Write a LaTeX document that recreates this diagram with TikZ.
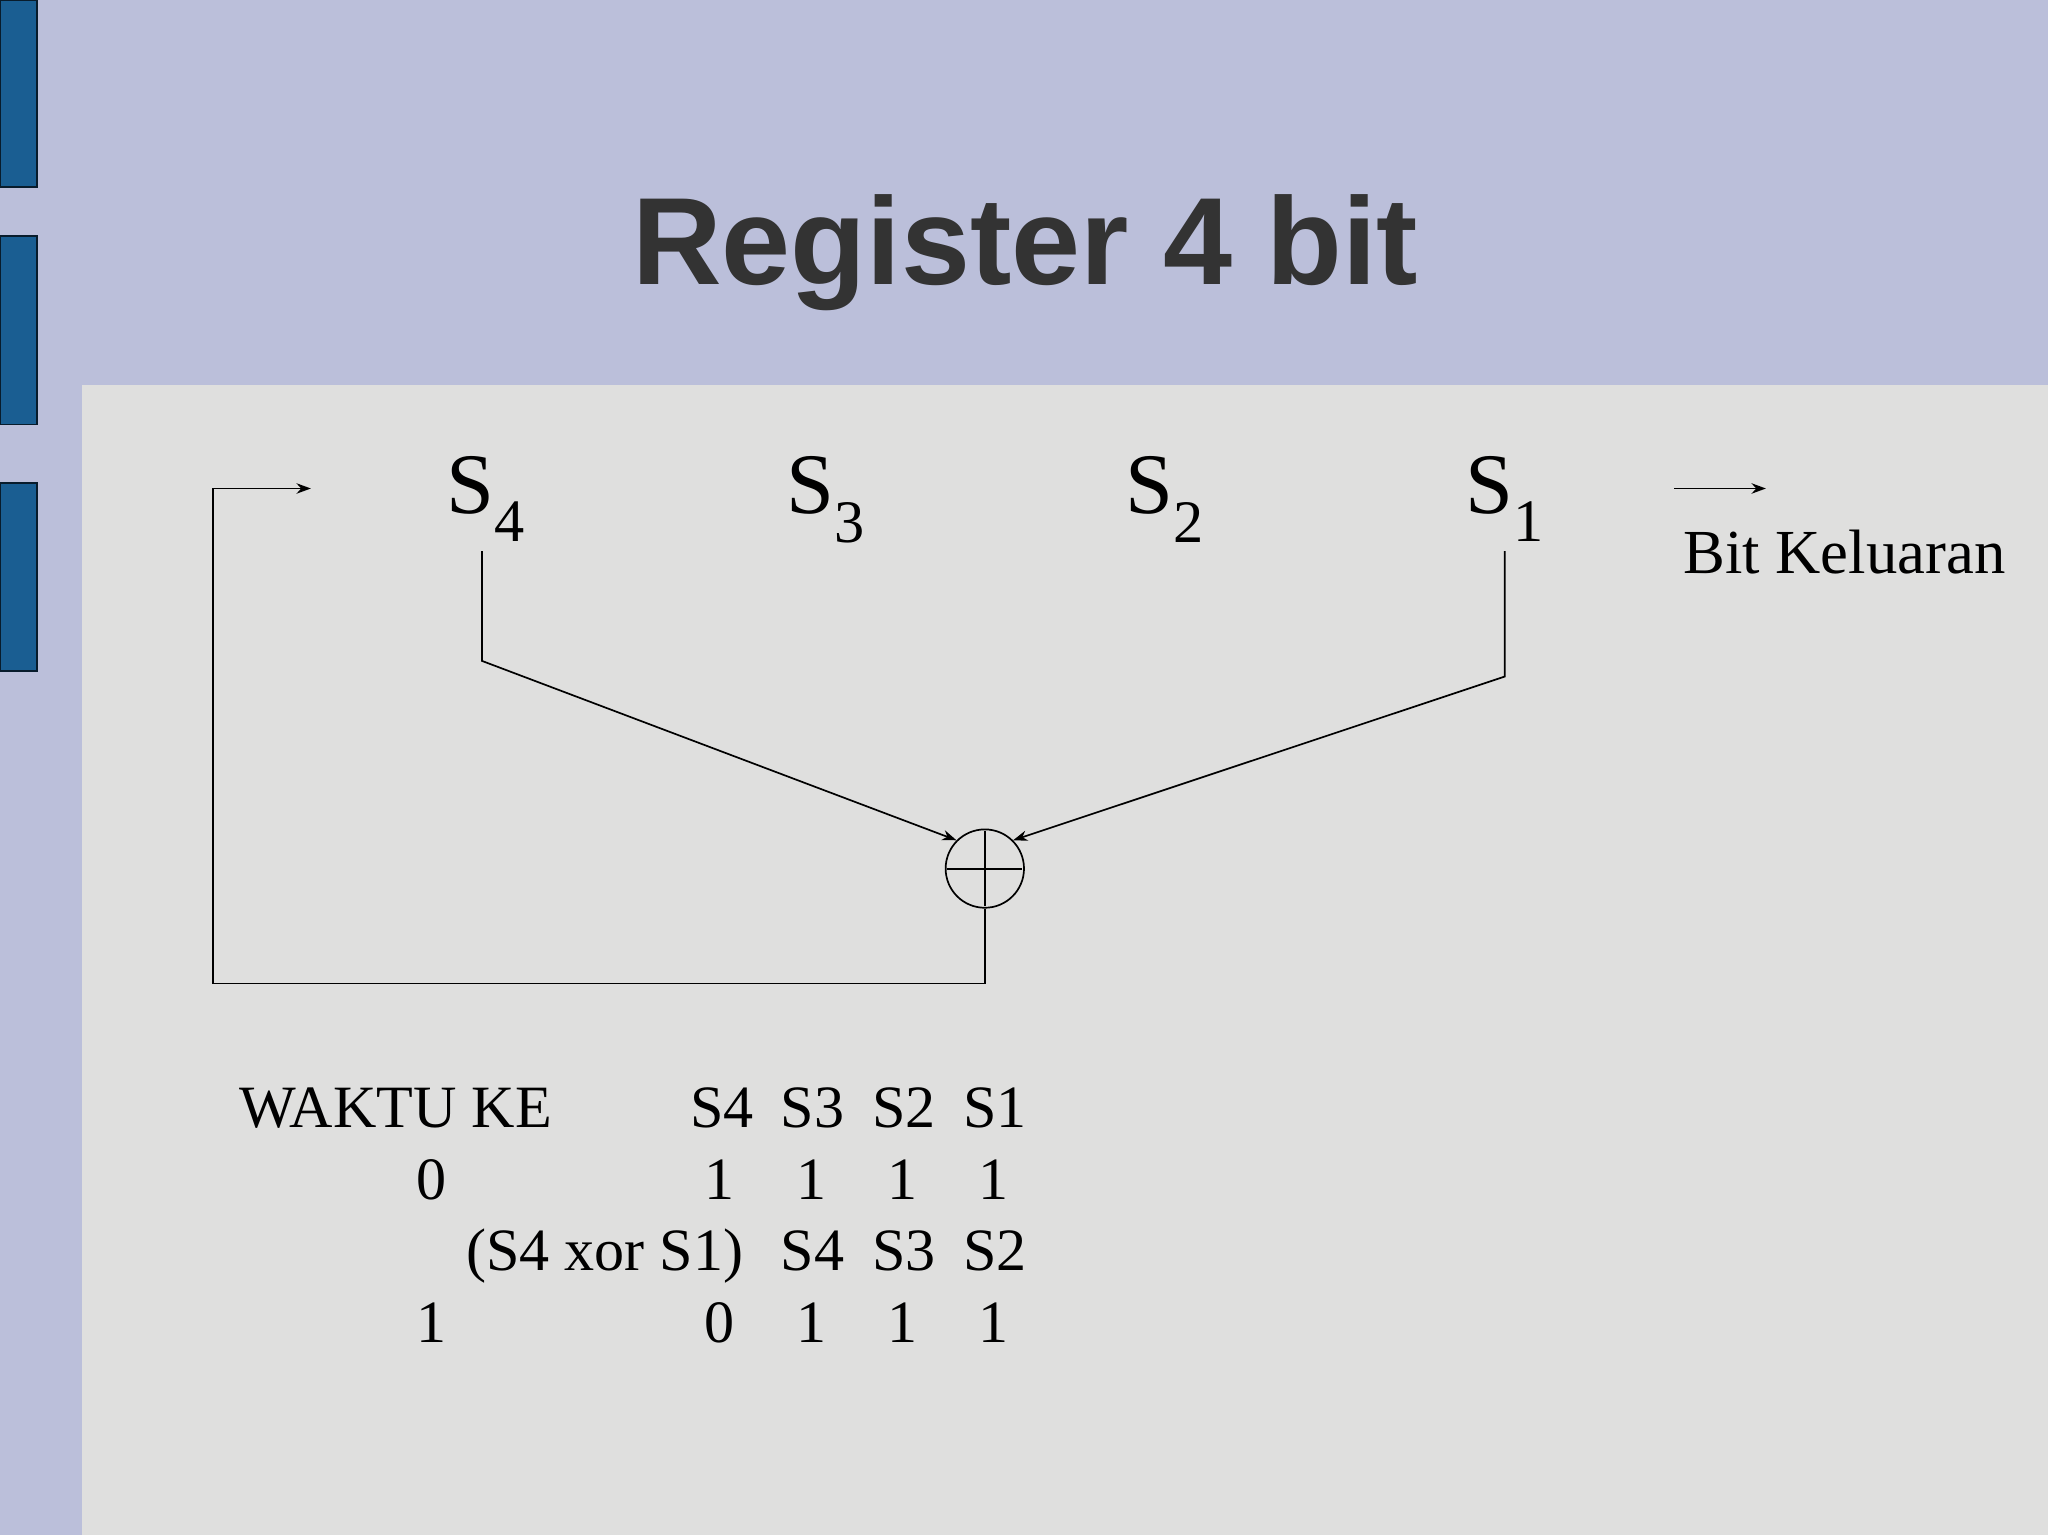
\documentclass[tikz,border=0pt]{standalone}
\usepackage{fontspec}
\setmainfont{Liberation Serif}
\newfontfamily\titlefont{Liberation Sans}
\usetikzlibrary{arrows.meta}
\definecolor{band}{HTML}{BBBFDA}
\definecolor{panel}{HTML}{DFDFDE}
\definecolor{barblue}{HTML}{1A5E92}
\definecolor{titlegray}{HTML}{333333}
\tikzset{
  wire/.style={line width=1.3pt, black},
  arr/.style={wire, -{Stealth[length=11pt,width=8pt]}},
  reg/.style={font=\fontsize{66}{70}\selectfont, anchor=base},
  tab/.style={font=\fontsize{46}{50}\selectfont, anchor=base},
}
\begin{document}
\begin{tikzpicture}[x=1pt,y=-1pt]
\useasboundingbox (0,0) rectangle (1568,1175);
\fill[band] (0,0) rectangle (1568,1175);
\fill[panel] (63,295) rectangle (1568,1175);
\foreach \a/\b in {0/143,181/325,370/514}
  \filldraw[fill=barblue, draw=black!70!barblue, line width=1.5pt] (0,\a) rectangle (28,\b);
\node[font=\titlefont\bfseries\fontsize{95}{100}\selectfont, text=titlegray, anchor=base] (title) at (785,218) {Register 4 bit};

\node[reg] (s4) at (372,393) {S\textsubscript{4}};
\node[reg] (s3) at (632,393) {S\textsubscript{3}};
\node[reg] (s2) at (892,393) {S\textsubscript{2}};
\node[reg] (s1) at (1152,393) {S\textsubscript{1}};
\node[font=\fontsize{48}{50}\selectfont, anchor=base] (out) at (1412,439) {Bit Keluaran};

\node[draw, circle, line width=1.3pt, minimum size=60pt, inner sep=0pt] (x) at (754,665) {};
\draw[line width=1.6pt] ([yshift=-2pt]x.north) -- ([yshift=2pt]x.south) ([xshift=2pt]x.west) -- ([xshift=-2pt]x.east);

\coordinate (a1) at (369,422); \coordinate (a2) at (369,506);
\coordinate (b1) at (1152,422); \coordinate (b2) at (1152,518);
\coordinate (f1) at (754,753); \coordinate (f2) at (163,753);
\coordinate (f3) at (163,374); \coordinate (f4) at (238,374);
\coordinate (o1) at (1282,374); \coordinate (o2) at (1352,374);
\draw[arr] (a1) -- (a2) -- (x.north west);
\draw[arr] (b1) -- (b2) -- (x.north east);
\draw[arr] (x.south) -- (f1) -- (f2) -- (f3) -- (f4);
\draw[arr] (o1) -- (o2);

\node[tab, anchor=base west] (h0) at (180,863) {WAKTU KE};
\node[tab] (h1) at (553,863) {S4};
\node[tab] (h2) at (622,863) {S3};
\node[tab] (h3) at (692,863) {S2};
\node[tab] (h4) at (762,863) {S1};
\node[tab] (r0) at (330,918) {0};
\node[tab] (r01) at (551,918) {1};
\node[tab] (r02) at (621,918) {1};
\node[tab] (r03) at (691,918) {1};
\node[tab] (r04) at (761,918) {1};
\node[tab] (m0) at (463,973) {(S4 xor S1)};
\node[tab] (m2) at (622,973) {S4};
\node[tab] (m3) at (692,973) {S3};
\node[tab] (m4) at (762,973) {S2};
\node[tab] (r1) at (330,1028) {1};
\node[tab] (r11) at (551,1028) {0};
\node[tab] (r12) at (621,1028) {1};
\node[tab] (r13) at (691,1028) {1};
\node[tab] (r14) at (761,1028) {1};
\end{tikzpicture}
\end{document}
